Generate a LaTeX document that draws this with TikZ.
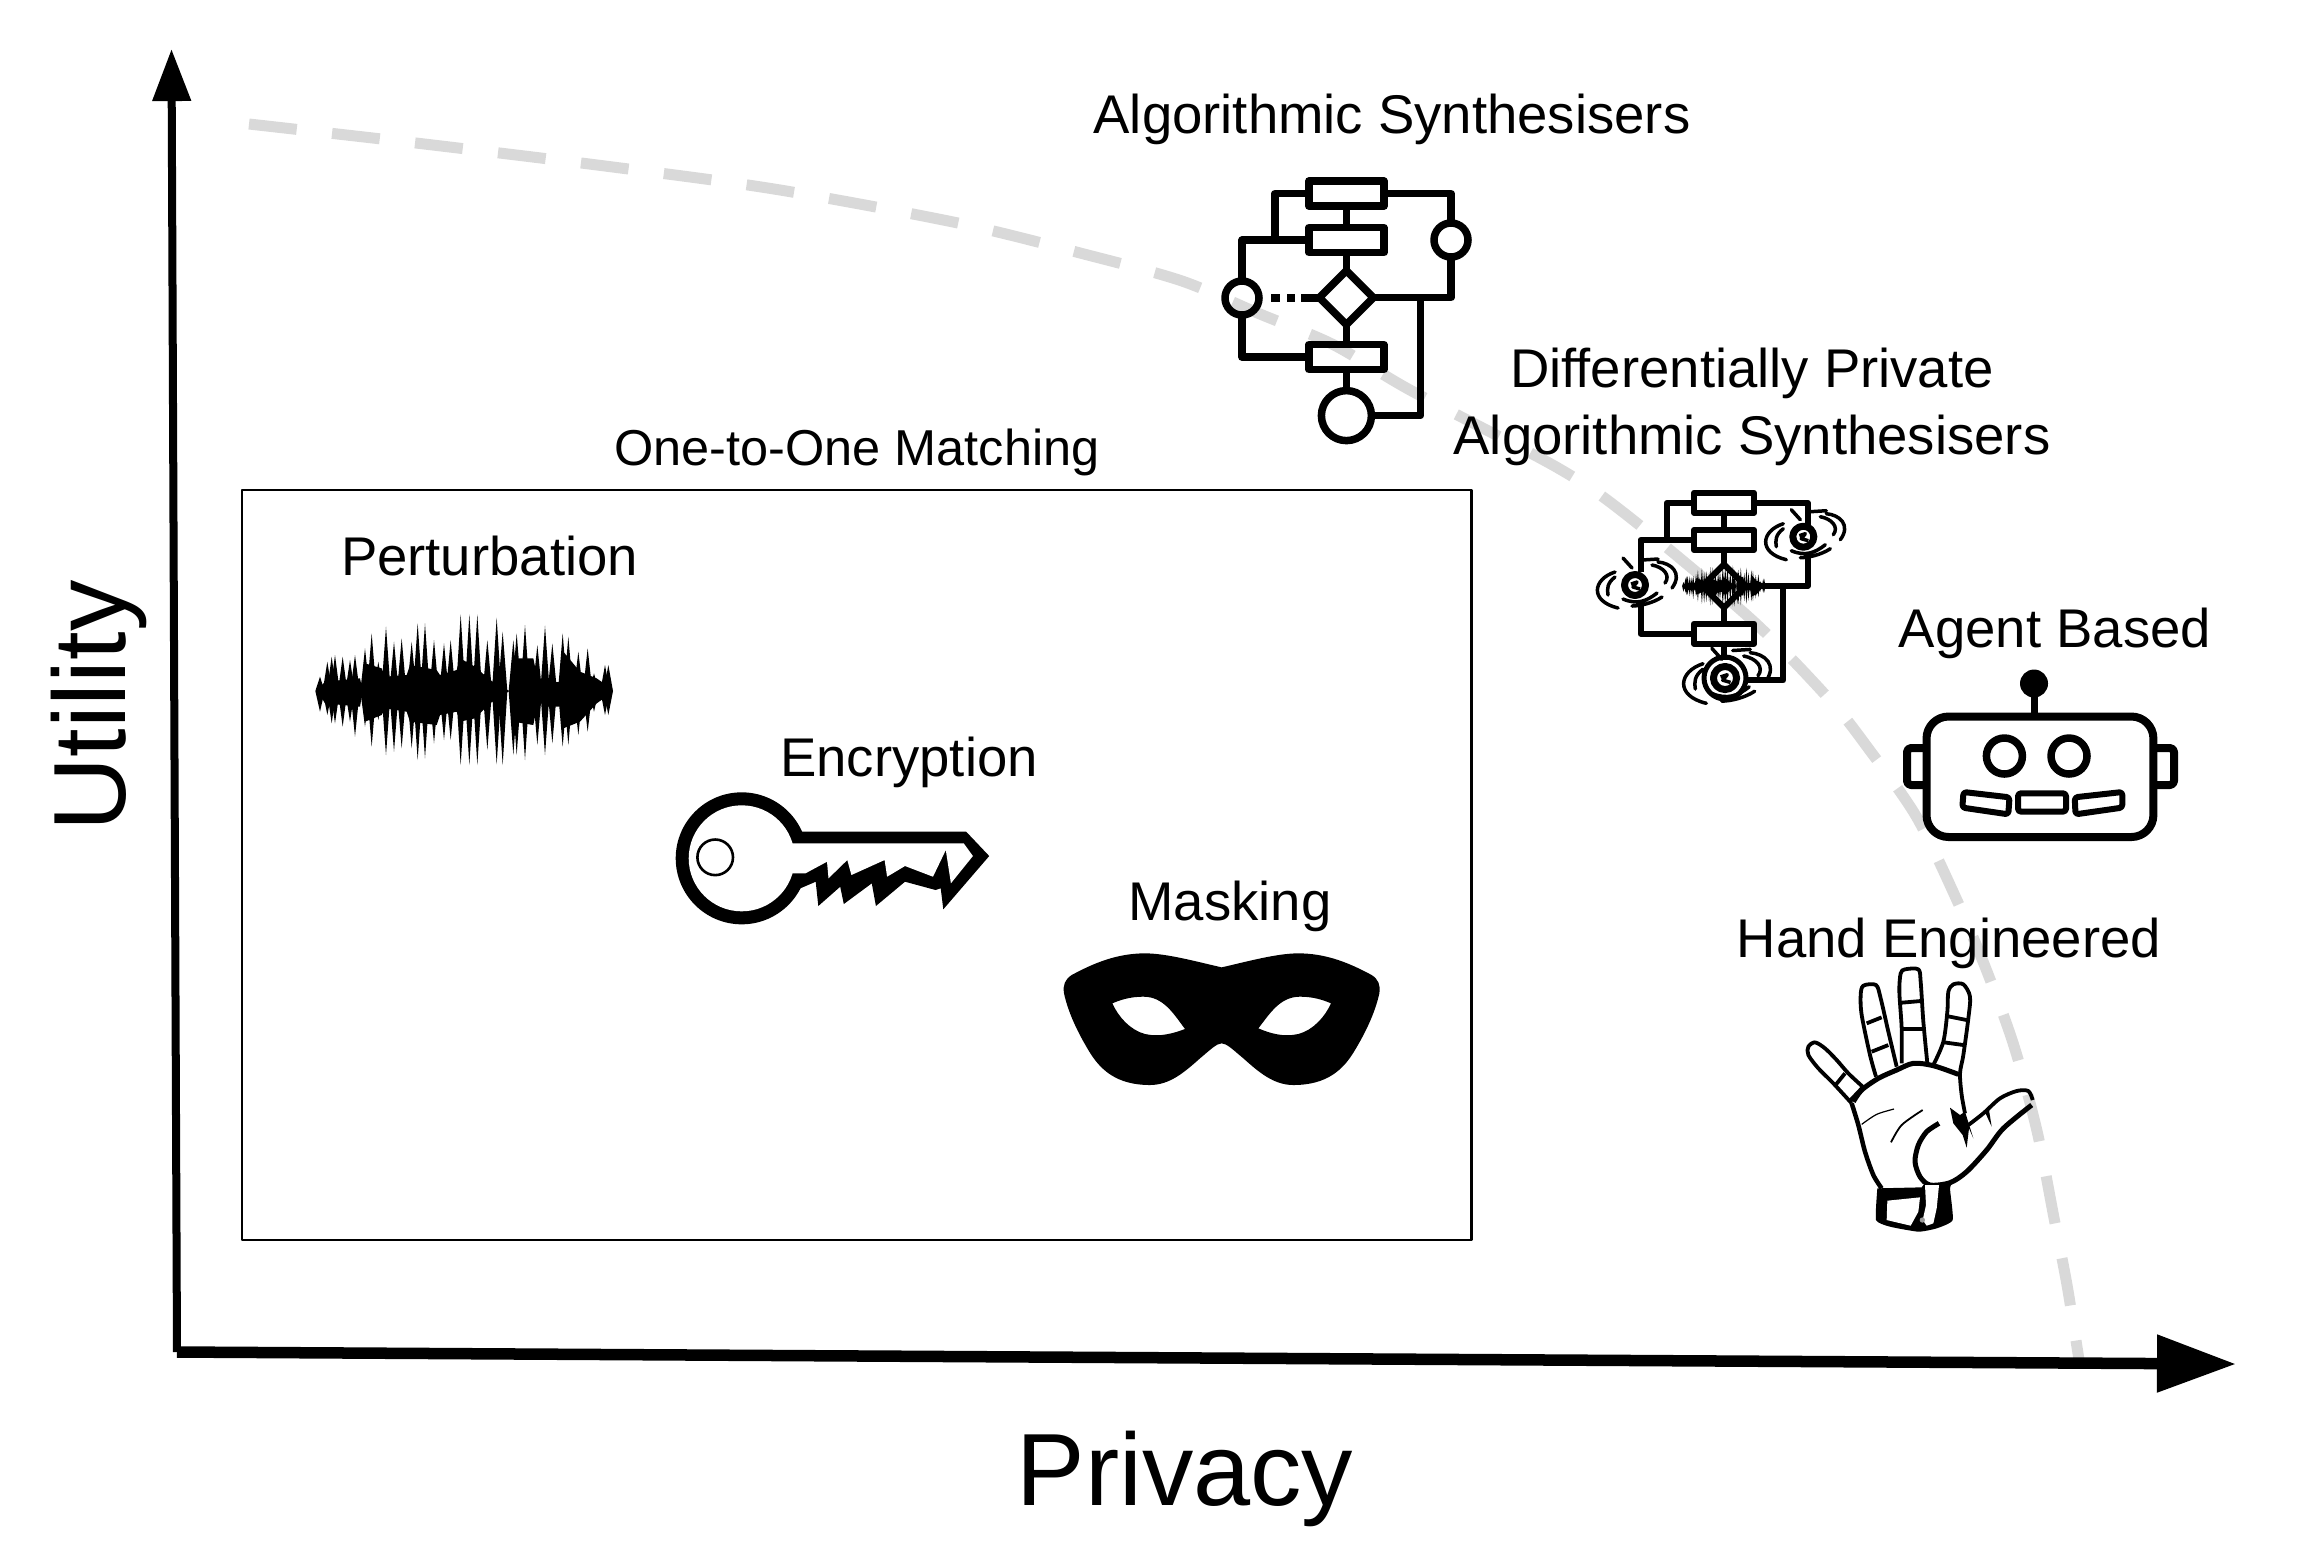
\documentclass[tikz,border=0pt]{standalone}
\usepackage{fontspec}
\setmainfont{Liberation Sans}
\usetikzlibrary{arrows.meta}

\tikzset{
  lab/.style={font=\fontsize{15.5}{18.9}\selectfont,inner sep=0pt,align=center},
  biglab/.style={font=\fontsize{29.2}{34}\selectfont,inner sep=0pt},
  trade/.style={draw=black!15,line width=.11cm,dash pattern=on .48cm off .355cm},
  % flow chart without its round steps
  flow/.pic={
    \draw (-37.5,-116.5) rectangle (37.5,-91.5);
    \draw (-37.5,-70) rectangle (37.5,-45);
    \draw (-37.5,47) rectangle (37.5,72);
    \draw (-27,0) -- (0,-27) -- (27,0) -- (0,27) -- cycle;
    \draw (0,-91.5) -- (0,-70) (0,-45) -- (0,-27) (0,27) -- (0,47) (0,72) -- (0,93);
    \draw (-37.5,-104) -- (-71.4,-104) -- (-71.4,-57.5);
    \draw (-37.5,-57.5) -- (-104.4,-57.5) -- (-104.4,-17);
    \draw (-104.4,17) -- (-104.4,59.5) -- (-37.5,59.5);
    \draw (37.5,-104) -- (104.6,-104) -- (104.6,-74.5);
    \draw (104.6,-40.5) -- (104.6,0) -- (27,0);
    \draw (74,0) -- (74,118) -- (25,118);
  },
  % spiky waveform, in steps of a third of a pixel
  noise/.pic={
    \fill plot coordinates {(-438,-8) (-420,-28) (-315,-38) (-307,0) (-300,-83) (-250,-68) (-240,-43)
      (-175,-48) (-165,-78) (-85,-63) (-75,-48) (-25,-63) (-15,-98) (30,-73) (75,-33) (133,0)
      (145,-98) (205,-98) (225,0) (250,-23) (285,-28) (295,-118) (345,-58) (395,-38) (438,-8)
      (438,7) (395,37) (345,92) (295,112) (285,47) (250,47) (225,0) (205,102) (145,92) (133,0)
      (75,37) (30,82) (-15,92) (-25,62) (-75,72) (-85,102) (-165,92) (-175,62) (-240,52) (-250,72)
      (-300,92) (-307,0) (-315,47) (-420,37) (-438,7)};
    \foreach \xa/\ya/\yb in {30/215/320,52/170/330,65/155/355,75/150/355,98/155/365,120/165/350,
      135/150/395,165/130/365,185/85/425,205/170/345,228/65/450,252/110/440,275/100/430,305/110/430,
      323/55/465,345/55/460,372/105/415,402/115/405,422/105/405,452/28/480,478/28/480,502/28/480,
      532/105/435,560/38/478,578/80/480,610/105/450,620/85/450,645/60/465,682/120/420,705/62/450,
      727/115/415,758/85/425,775/95/420,805/140/390,833/130/380,852/205/320,885/180/330,895/180/330}
      \fill ({\xa-479},0) -- ({\xa-465},{\ya-258}) -- ({\xa-451},0) -- ({\xa-465},{\yb-258}) -- cycle;
  },
  % scribbled step of the private chart
  swirl/.pic={
    \draw[fill=white,line width=.07cm] (0,0) circle (10.5);
    \draw[line width=.035cm] (-4,-1) -- (2,-3) -- (-2,2) -- (5,4);
    \draw[line width=.035cm,line cap=round]
      (-20,-13) .. controls (-42,-6) and (-46,16) .. (-17,23)
      (-20,-8) .. controls (-28,-2) and (-28,4) .. (-27,10)
      (23,-23) .. controls (36,-22) and (48,-12) .. (37,3)
      (17,-20) .. controls (28,-18) and (36,-10) .. (30,-2)
      (-3,21) .. controls (5,21) and (18,18) .. (27,12)
      (7,-25) -- (23,-26) (-12,-27) -- (-3,-17)
      (-12,14) .. controls (2,20) and (12,16) .. (22,8);
  }
}

\begin{document}
\begin{tikzpicture}[x=.01cm,y=-.01cm,line join=round]
  \useasboundingbox (0,0) rectangle (2312,1553);

  % trade-off curve
  \draw[trade] plot[smooth,tension=.5] coordinates {(249,124) (416,143) (605,166) (774,189) (958,223)
    (1084,254) (1182,281) (1260,314) (1334,345) (1410,390) (1558,468) (1628,516) (1752,620) (1830,700)
    (1868,748) (1916,816) (1955,896) (1986,969) (2014,1046) (2037,1131) (2054,1218) (2067,1285) (2079,1360)};

  % axes
  \coordinate (corner) at (177,1352);
  \coordinate (utilitytip) at (171.5,49);
  \coordinate (privacytip) at (2236,1364);
  \draw[line width=.08cm,-{Triangle[length=.52cm,width=.37cm]}] (corner) -- (utilitytip);
  \draw[line width=.115cm,-{Triangle[length=.79cm,width=.55cm]}] (corner) -- (privacytip);
  \node[biglab,rotate=90] (utility) at (99,706) {Utility};
  \node[biglab] (privacy) at (1185,1479) {Privacy};

  % one-to-one box
  \draw[line width=.027cm] (242,490) rectangle (1471.5,1240);
  \node[lab,font=\fontsize{14.35}{18}\selectfont] (matching) at (857,452) {One-to-One Matching};
  \node[lab] (perturbation) at (489.5,556) {Perturbation};
  \node[lab] (encryption) at (909,762) {Encryption};
  \node[lab] (masking) at (1230,906) {Masking};

  % waveform
  \pic[scale=1/3] at (465,691) {noise};

  % key
  \fill (741.7,858.3) circle (66);
  \fill (800.4,831.7) -- (966.2,831.7) -- (989.2,856) -- (943.3,909.3) -- (940.7,888.3) -- (935.6,890)
    -- (905,881.7) -- (875.9,906) -- (871.8,883.3) -- (843.8,904) -- (840.2,886.7) -- (818.3,906)
    -- (815.7,881.7) -- (800.4,888.3) -- (770,888) -- (770,832) -- cycle;
  \fill[white] (741.7,858.3) circle (53);
  \fill[white] (785,843.3) -- (963.7,843.3) -- (972.9,856) -- (950.9,883.3) -- (945.8,850) -- (933,876.7)
    -- (905,866) -- (887.1,876.7) -- (884.6,860) -- (851.4,875) -- (847.3,860) -- (828.5,878.3)
    -- (827,861.7) -- (805.5,873.3) -- (785,873.3) -- cycle;
  \draw[line width=.026cm] (715.2,857.3) circle (17.8);

  % mask
  \begin{scope}[shift={(1050,880)},scale=1/3]
    \fill[even odd rule] (515,262) .. controls (590,245) and (680,220) .. (745,220)
      .. controls (830,220) and (900,250) .. (965,285) .. controls (985,298) and (992,315) .. (988,340)
      .. controls (975,400) and (945,460) .. (915,510) .. controls (880,570) and (830,615) .. (730,615)
      .. controls (670,615) and (625,575) .. (580,535) .. controls (550,510) and (530,490) .. (515,490)
      .. controls (500,490) and (480,510) .. (450,535) .. controls (405,575) and (360,615) .. (300,615)
      .. controls (200,615) and (150,570) .. (115,510) .. controls (85,460) and (55,400) .. (42,340)
      .. controls (38,315) and (45,298) .. (65,285) .. controls (130,250) and (200,220) .. (285,220)
      .. controls (350,220) and (440,245) .. (515,262) -- cycle
      (625,445) .. controls (660,400) and (690,350) .. (750,350) .. controls (790,350) and (820,360) .. (843,370)
      .. controls (825,410) and (790,450) .. (745,462) .. controls (700,472) and (660,460) .. (625,445) -- cycle
      (405,447) .. controls (370,460) and (330,472) .. (285,462) .. controls (240,450) and (205,410) .. (187,370)
      .. controls (210,360) and (240,350) .. (280,350) .. controls (340,350) and (370,400) .. (405,447) -- cycle;
  \end{scope}

  % algorithmic synthesisers
  \node[lab] (algo) at (1392,119) {Algorithmic Synthesisers};
  \pic[line width=.075cm] at (1346.4,297.6) {flow};
  \draw[line width=.075cm] (1242,298) circle (17);
  \draw[line width=.075cm] (1451,240) circle (17);
  \draw[line width=.075cm] (1346.4,415.6) circle (25);
  \foreach \xa/\xb in {1271/1280,1287/1295,1301/1320}
    \draw[line width=.075cm] (\xa,298) -- (\xb,298);

  % private version of the same chart
  \node[lab] (private) at (1752,407) {Differentially Private\\Algorithmic Synthesisers};
  \pic[scale=.8,line width=.06cm] at (1724,586) {flow};
  \pic[scale=.28/3] at (1724,586) {noise};
  \pic at (1635,585) {swirl};
  \pic at (1803.3,536.7) {swirl};
  \pic[scale=1.1] at (1725,678) {swirl};
  \draw[line width=.05cm] (1725,678) circle (21);

  % robot
  \node[lab] (agent) at (2055,633) {Agent Based};
  \draw[line width=.08cm,rounded corners=.22cm] (1926.5,716.5) rectangle (2153.4,837);
  \draw[line width=.08cm,rounded corners=.04cm] (1926.5,748) -- (1907,748) -- (1907,785) -- (1926.5,785);
  \draw[line width=.08cm,rounded corners=.04cm] (2153.4,748) -- (2174,748) -- (2174,785) -- (2153.4,785);
  \draw[line width=.07cm] (2034,716.5) -- (2034,690);
  \fill (2034,683.5) circle (14);
  \foreach \xa in {2004.4,2069}
    \draw[line width=.075cm] (\xa,756) circle (18);
  \draw[line width=.06cm,rounded corners=.03cm] (1963.5,792) -- (2009.5,797.3) -- (2008.3,814.3) -- (1962.3,807.6) -- cycle;
  \draw[line width=.06cm,rounded corners=.03cm] (2018,793.3) -- (2066,793.3) -- (2066,811.6) -- (2018,811.6) -- cycle;
  \draw[line width=.06cm,rounded corners=.03cm] (2074.7,797.3) -- (2122.3,792) -- (2122.3,807.6) -- (2075.5,814.3) -- cycle;

  % hand
  \node[lab] (hand) at (1949,943) {Hand Engineered};
  \begin{scope}[shift={(1790,955)},scale=1/3,line width=.038cm]
    \draw plot[smooth,tension=.5] coordinates {(185,445) (130,385) (85,340) (55,300) (55,275) (75,262)
      (105,280) (140,315) (175,355) (218,395)};
    \draw[line width=.05cm] plot[smooth,tension=.5] coordinates {(190,440) (215,405) (265,370) (320,345) (370,325) (430,332) (505,358)};
    \draw plot[smooth,tension=.5] coordinates {(258,365) (240,300) (215,180) (212,120) (220,92) (258,90)
      (272,130) (295,230) (320,335)};
    \draw plot[smooth,tension=.5] coordinates {(335,325) (335,220) (328,110) (332,55) (345,43) (385,43)
      (392,80) (400,200) (412,325)};
    \draw plot[smooth,tension=.5] coordinates {(430,330) (460,260) (472,170) (475,110) (490,88) (520,88)
      (540,125) (535,190) (520,300) (510,355) (515,420) (525,475)};
    % finger joints
    \foreach \xa/\ya/\xb/\yb in {135/392/165/355,180/437/218/397,230/205/275/187,245/290/295/270,
      335/143/392/138,335/222/400/222,470/183/530/195,462/262/520/270}
      \draw (\xa,\ya) -- (\xb,\yb);
    % thumb
    \draw plot[smooth,tension=.5] coordinates {(535,510) (580,475) (630,430) (680,408) (715,408) (728,435)};
    \draw[line width=.05cm] plot[smooth,tension=.5] coordinates {(725,450) (640,520) (590,585) (530,650) (480,683)
      (420,690) (390,665) (375,620) (385,570) (410,530) (447,505)};
    \fill (480,458) -- (510,480) -- (525,470) -- (550,550) -- (537,520) -- (530,578) -- (518,540) -- (490,505) -- cycle;
    \fill (582,465) -- (597,465) -- (605,515) -- cycle;
    % palm edge and creases
    \draw[line width=.045cm] plot[smooth,tension=.5] coordinates {(185,445) (205,510) (225,590) (250,660) (275,700)};
    \draw[line width=.012cm] plot[smooth,tension=.5] coordinates {(215,508) (260,478) (312,462)};
    \draw[line width=.018cm] plot[smooth,tension=.5] coordinates {(303,562) (335,510) (398,465)};
    % wrist band
    \fill plot[smooth,tension=.3] coordinates {(262,700) (258,795) (300,815) (385,830) (440,820) (488,795) (480,700) (490,680)}
      -- (400,690) -- (395,697) -- cycle;
    \fill[white] (292,737) -- (390,727) -- (385,770) -- (362,812) -- (290,795) -- cycle;
    \fill[white] (405,690) -- (447,690) -- (440,760) -- (430,805) -- (410,812) -- (398,795) -- (408,750) -- cycle;
    \fill[black!40] (397,795) circle (8);
  \end{scope}
\end{tikzpicture}
\end{document}
